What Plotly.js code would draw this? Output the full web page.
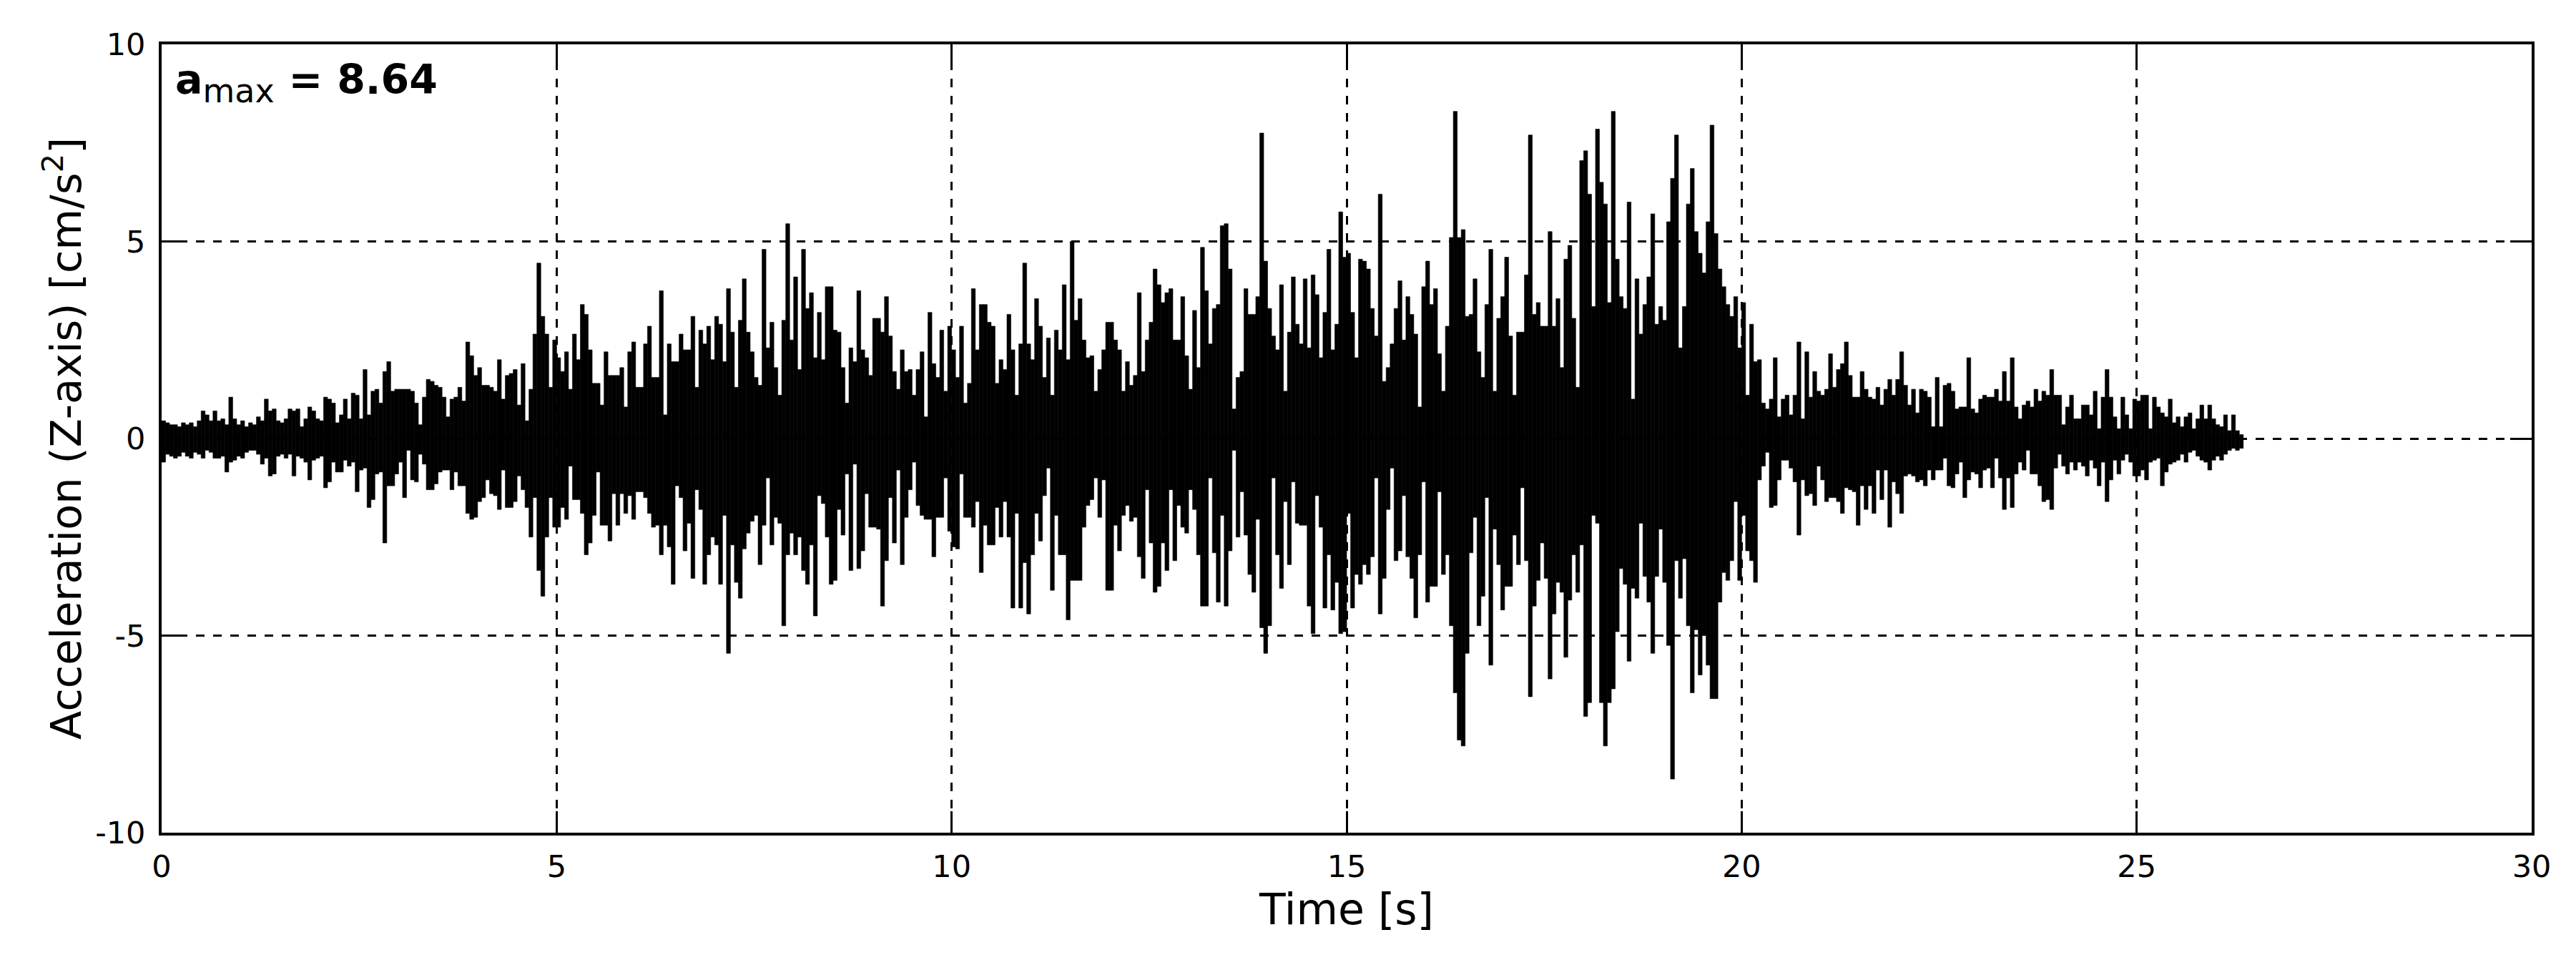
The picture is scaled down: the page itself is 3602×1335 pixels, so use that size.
<!DOCTYPE html>
<html>
<head>
<meta charset="utf-8">
<script src="https://cdn.plot.ly/plotly-3.0.1.min.js"></script>
<style>
  html, body { margin: 0; padding: 0; background: #ffffff; }
  #chart { width: 3602px; height: 1335px; }
</style>
</head>
<body>
<div id="chart"></div>
<script>
// Sampling of the envelope: one positive and one negative peak per 0.05 s bin
const binStart = 0;      // s
const binWidth = 0.05;   // s

// Positive peaks [cm/s^2], read from the record, grouped by 3-second spans
const upper_00_03 = [0.45,0.4,0.35,0.35,0.3,0.4,0.35,0.4,0.3,0.45, 0.7,0.6,0.45,0.7,0.45,0.5,0.35,1.05,0.5,0.35, 0.45,0.3,0.4,0.35,0.55,0.45,1.0,0.7,0.75,0.45, 0.4,0.5,0.75,0.7,0.75,0.3,0.5,0.8,0.7,0.5, 0.45,1.05,1.0,0.9,0.4,0.6,1.0,0.5,1.15,1.1, 0.5,1.75,0.6,1.2,1.25,0.9,1.7,1.95,1.2,1.25];
const upper_03_06 = [1.25,1.25,1.25,1.2,0.9,0.35,1.05,1.5,1.45,1.35, 1.3,1.05,0.55,1.0,1.05,1.3,0.95,2.45,2.1,1.6, 1.8,1.35,1.35,1.3,1.2,2.0,1.0,1.6,1.65,1.75, 0.85,1.9,0.45,1.25,2.65,4.45,3.1,2.65,1.3,2.5, 2.05,1.7,2.2,1.25,2.65,2.0,3.4,3.15,2.25,1.4, 1.4,0.85,2.2,1.6,1.6,1.6,1.8,0.8,2.2,2.45];
const upper_06_09 = [1.3,1.3,2.4,2.85,1.55,1.55,3.75,0.6,2.4,1.95, 1.95,2.65,2.25,2.25,3.1,1.3,2.75,2.4,2.85,2.0, 3.1,2.9,1.95,3.8,2.7,1.3,3.0,4.05,2.7,2.2, 1.55,1.35,4.8,2.3,2.95,1.8,1.1,3.0,5.45,2.5, 4.1,1.75,4.8,3.3,3.7,2.05,3.2,2.0,3.85,3.85, 2.75,2.7,1.8,0.9,2.3,1.95,3.75,2.25,2.05,1.6];
const upper_09_12 = [3.05,3.05,2.7,3.6,2.6,1.7,1.25,2.25,1.7,1.75, 1.1,1.75,2.2,0.55,3.2,1.9,1.55,2.75,1.2,2.85, 2.25,1.55,2.85,0.9,1.4,3.8,2.25,3.4,3.4,2.95, 2.85,1.4,2.0,1.75,3.15,2.25,1.1,2.4,4.45,2.4, 2.0,3.55,2.85,1.55,2.55,1.1,2.75,2.25,3.9,2.0, 5.0,3.0,3.55,2.5,2.05,2.1,1.2,1.75,2.25,2.95];
const upper_12_15 = [2.95,2.5,2.25,1.2,1.95,1.35,1.6,3.7,1.7,2.5, 2.95,4.3,3.9,3.45,3.7,3.8,2.5,2.5,3.6,2.1, 1.25,3.25,1.8,4.85,3.75,2.4,3.3,3.4,5.4,5.45, 4.3,0.75,1.55,1.7,3.8,3.15,3.15,3.6,7.75,4.5, 3.3,2.6,2.25,3.9,1.2,2.7,4.1,2.9,2.4,4.05, 2.3,4.15,3.65,2.05,3.2,4.8,2.25,2.9,5.75,4.6];
const upper_15_18 = [4.7,3.2,2.05,4.55,4.5,4.3,3.3,2.6,6.2,1.45, 1.8,2.4,3.3,4.0,2.5,3.6,3.15,2.65,0.8,3.85, 4.5,3.4,3.8,2.15,1.2,2.85,5.1,8.3,5.1,5.3, 3.1,3.15,4.05,2.2,1.55,3.4,4.8,1.2,3.05,3.6, 4.6,2.6,1.1,2.7,2.7,4.15,7.7,3.15,3.45,2.85, 2.85,5.25,2.85,3.55,1.8,4.55,4.9,3.05,1.3,7.05];
const upper_18_21 = [7.3,6.2,3.35,7.85,6.5,5.95,3.45,8.3,4.55,3.6, 3.3,6.0,1.0,4.05,2.65,3.4,4.1,5.7,2.9,3.35, 3.0,5.5,6.6,7.7,2.3,3.35,5.95,6.85,5.25,4.7, 4.2,5.5,7.95,5.2,4.3,3.85,3.4,3.1,3.6,2.3, 3.45,1.1,2.9,1.95,2.0,0.9,0.75,1.0,2.05,0.55, 1.0,1.1,0.6,1.1,2.45,0.5,2.2,1.05,1.7,1.2];
const upper_21_24 = [1.1,1.25,2.15,1.3,1.75,1.9,2.45,1.6,1.05,1.05, 1.7,1.25,1.05,1.0,1.3,0.85,1.25,1.5,1.1,1.5, 2.2,1.35,0.85,1.25,0.65,1.25,1.2,1.05,0.3,1.55, 0.3,1.35,1.4,1.2,0.75,0.8,0.8,2.05,0.75,0.65, 1.0,1.1,1.05,1.05,1.25,0.95,1.7,0.95,2.05,0.8, 0.5,0.85,0.95,0.8,1.25,0.95,1.2,1.1,1.75,1.1];
const upper_24_27 = [1.1,0.35,0.8,1.1,0.5,0.5,0.85,0.85,0.6,1.2, 0.25,1.05,1.75,1.05,0.55,0.25,1.05,0.6,0.25,1.0, 0.95,1.1,1.1,0.25,1.05,0.8,0.65,0.55,1.0,0.4, 0.55,0.3,0.55,0.65,0.25,0.5,0.85,0.5,0.85,0.5, 0.35,0.3,0.6,0.2,0.6,0.2,0.1];

// Negative peaks [cm/s^2]
const lower_00_03 = [-0.6,-0.4,-0.45,-0.5,-0.45,-0.35,-0.45,-0.5,-0.35,-0.4, -0.5,-0.3,-0.35,-0.5,-0.5,-0.45,-0.85,-0.6,-0.55,-0.45, -0.5,-0.35,-0.3,-0.3,-0.4,-0.65,-0.5,-0.95,-0.9,-0.45, -0.4,-0.5,-0.4,-0.95,-0.45,-0.5,-0.6,-1.05,-0.55,-0.5, -0.45,-1.25,-1.1,-0.6,-0.85,-0.85,-0.55,-0.7,-0.6,-1.35, -0.8,-0.75,-1.75,-1.55,-0.9,-0.85,-2.65,-1.2,-1.2,-0.9];
const lower_03_06 = [-0.6,-1.5,-0.3,-1.05,-1.1,-0.4,-0.65,-1.3,-1.3,-1.15, -0.85,-0.8,-0.8,-1.3,-0.85,-1.2,-1.2,-1.9,-2.05,-2.0, -1.6,-1.5,-1.05,-1.4,-1.45,-1.8,-0.8,-1.75,-1.75,-1.6, -0.95,-1.3,-1.75,-2.5,-1.5,-3.35,-4.0,-2.5,-1.5,-2.25, -2.25,-1.75,-2.05,-0.7,-1.55,-1.55,-1.9,-2.95,-2.65,-1.95, -0.85,-2.2,-2.2,-2.6,-1.4,-2.2,-1.4,-1.9,-1.45,-2.05];
const lower_06_09 = [-1.35,-1.35,-1.5,-1.9,-2.25,-2.2,-2.95,-2.2,-2.75,-3.7, -1.2,-1.5,-2.85,-2.15,-3.55,-1.3,-1.8,-3.7,-2.95,-2.5, -2.7,-3.7,-1.95,-5.45,-2.7,-3.65,-4.05,-2.8,-2.4,-2.1, -1.95,-3.2,-2.2,-1.0,-2.7,-2.0,-2.15,-4.75,-2.95,-2.4, -2.95,-2.5,-3.35,-3.7,-2.7,-4.5,-1.45,-1.65,-2.5,-3.7, -3.6,-1.8,-2.45,-0.9,-3.35,-0.65,-3.3,-2.85,-1.4,-2.25];
const lower_09_12 = [-2.25,-2.3,-4.25,-3.1,-1.5,-2.65,-0.8,-3.2,-2.0,-1.3, -0.6,-1.7,-1.95,-2.05,-2.05,-3.0,-2.0,-2.0,-1.0,-2.35, -2.75,-2.8,-0.9,-2.0,-2.0,-2.25,-1.6,-3.4,-2.2,-2.7, -2.7,-1.75,-2.5,-1.6,-2.5,-4.3,-1.9,-4.3,-3.15,-4.45, -2.95,-1.9,-2.6,-1.45,-0.75,-3.85,-1.95,-2.95,-2.95,-4.6, -3.6,-3.6,-3.6,-2.25,-1.7,-1.55,-1.0,-2.0,-1.05,-3.85];
const lower_12_15 = [-3.85,-2.2,-2.85,-1.95,-1.7,-2.1,-2.0,-3.0,-3.55,-1.3, -2.65,-3.9,-3.75,-2.65,-3.35,-1.3,-3.1,-1.7,-2.25,-2.4, -1.3,-1.8,-2.95,-4.25,-4.25,-1.0,-2.9,-4.15,-1.95,-4.25, -2.85,-0.3,-2.5,-1.35,-2.45,-3.45,-3.9,-2.05,-4.8,-5.45, -4.75,-1.0,-2.95,-3.8,-1.6,-3.2,-1.1,-2.15,-2.2,-2.2, -4.25,-4.95,-1.45,-2.25,-4.3,-2.95,-4.35,-3.65,-4.95,-4.9];
const lower_15_18 = [-1.9,-4.3,-3.45,-3.7,-3.2,-3.45,-3.0,-1.0,-4.45,-3.55, -1.8,-0.75,-3.1,-2.85,-1.45,-3.0,-3.55,-4.55,-2.95,-1.1, -4.15,-3.75,-3.75,-1.35,-3.45,-2.95,-4.75,-6.45,-7.65,-7.8, -5.45,-2.9,-2.0,-4.75,-4.0,-1.5,-5.75,-2.3,-3.2,-4.35, -3.75,-3.75,-2.45,-3.2,-1.25,-3.1,-6.55,-4.25,-3.6,-2.65, -3.55,-6.1,-4.45,-3.65,-3.9,-5.55,-4.1,-2.95,-3.9,-2.7];
const lower_18_21 = [-7.05,-6.7,-1.95,-2.15,-6.7,-7.8,-6.7,-6.35,-4.9,-3.3, -3.7,-5.65,-3.8,-4.05,-2.15,-3.5,-4.15,-5.45,-3.5,-2.3, -3.65,-5.25,-8.64,-3.1,-4.05,-3.05,-4.75,-6.45,-4.85,-6.0, -5.0,-5.75,-6.6,-6.6,-4.15,-3.4,-3.6,-3.1,-1.6,-3.6, -1.95,-2.85,-3.1,-3.65,-1.05,-0.7,-0.35,-1.75,-1.7,-1.05, -0.55,-0.55,-0.75,-1.1,-2.45,-1.05,-1.45,-1.4,-1.7,-0.7];
const lower_21_24 = [-1.05,-1.6,-1.5,-1.5,-1.6,-1.9,-1.25,-1.3,-1.35,-2.2, -1.2,-1.8,-1.2,-1.9,-0.8,-1.55,-0.8,-2.25,-1.1,-1.4, -1.9,-0.95,-0.9,-0.95,-1.1,-1.05,-1.2,-0.8,-1.05,-0.8, -0.8,-0.5,-1.2,-1.25,-0.9,-0.6,-1.5,-1.05,-0.85,-0.9, -1.25,-0.8,-0.75,-1.25,-0.5,-1.0,-1.8,-1.0,-1.75,-0.9, -0.6,-0.8,-0.3,-0.9,-0.9,-1.2,-1.6,-1.55,-1.8,-0.75];
const lower_24_27 = [-0.4,-0.7,-0.9,-0.6,-0.8,-0.6,-0.7,-0.95,-0.55,-0.75, -1.2,-0.6,-1.6,-1.05,-0.55,-0.9,-0.55,-0.4,-0.6,-0.95, -0.95,-0.8,-1.05,-0.6,-0.55,-0.5,-1.2,-0.85,-0.65,-0.6, -0.55,-0.4,-0.6,-0.35,-0.3,-0.45,-0.55,-0.6,-0.8,-0.55, -0.45,-0.55,-0.4,-0.3,-0.25,-0.3,-0.25];

// Axis ticks and labels
const xTickVals = [0, 5, 10, 15, 20, 25, 30];
const xTickText = ['0', '5', '10', '15', '20', '25', '30'];
const yTickVals = [-10, -5, 0, 5, 10];
const yTickText = ['-10', '-5', '0', '5', '10'];
const xTitle = 'Time [s]';
const yTitle = 'Acceleration (Z-axis) [cm/s<sup>2</sup>]';
const peakLabel = '<b>a</b><sub><span style="font-size:46px">max</span></sub><b> = 8.64</b>';

const upperPeaks = [].concat(upper_00_03, upper_03_06, upper_06_09, upper_09_12, upper_12_15,
                             upper_15_18, upper_18_21, upper_21_24, upper_24_27);
const lowerPeaks = [].concat(lower_00_03, lower_03_06, lower_06_09, lower_09_12, lower_12_15,
                             lower_15_18, lower_18_21, lower_21_24, lower_24_27);

const FONT = 'DejaVu Sans, Liberation Sans, Arial, sans-serif';

function barTrace(values) {
  return {
    type: 'bar',
    y: values,
    x0: binStart + binWidth / 2,
    dx: binWidth,
    width: binWidth,
    marker: { color: '#000000', line: { color: '#000000', width: 0.6 } },
    hoverinfo: 'skip',
    showlegend: false
  };
}

const data = [barTrace(upperPeaks), barTrace(lowerPeaks)];

const axisCommon = {
  showline: true, linecolor: '#000000', linewidth: 4, mirror: 'ticks',
  ticks: 'inside', ticklen: 30, tickwidth: 3, tickcolor: '#000000',
  showgrid: true, gridcolor: '#000000', gridwidth: 3, griddash: '12px,12px',
  zeroline: false,
  tickfont: { family: FONT, size: 43, color: '#000000' },
  fixedrange: true
};

const layout = {
  width: 3602, height: 1335,
  margin: { l: 226, r: 62, t: 62, b: 171, pad: 0 },
  paper_bgcolor: '#ffffff', plot_bgcolor: '#ffffff',
  barmode: 'relative', bargap: 0,
  showlegend: false,
  font: { family: FONT, color: '#000000' },
  xaxis: Object.assign({}, axisCommon, {
    range: [0, 30], tickmode: 'array', tickvals: xTickVals, ticktext: xTickText,
    ticklabelstandoff: 6,
    title: { text: xTitle, font: { family: FONT, size: 60, color: '#000000' }, standoff: 4 }
  }),
  yaxis: Object.assign({}, axisCommon, {
    range: [-10, 10], tickmode: 'array', tickvals: yTickVals, ticktext: yTickText,
    ticklabelstandoff: 10,
    title: { text: yTitle, font: { family: FONT, size: 59, color: '#000000' }, standoff: 2 }
  }),
  annotations: [{
    xref: 'paper', yref: 'paper', x: 0.005, y: 0.987,
    xanchor: 'left', yanchor: 'top', showarrow: false,
    text: peakLabel,
    font: { family: FONT, size: 57, color: '#000000' }
  }]
};

Plotly.newPlot('chart', data, layout, { displayModeBar: false, staticPlot: true });
</script>
</body>
</html>
